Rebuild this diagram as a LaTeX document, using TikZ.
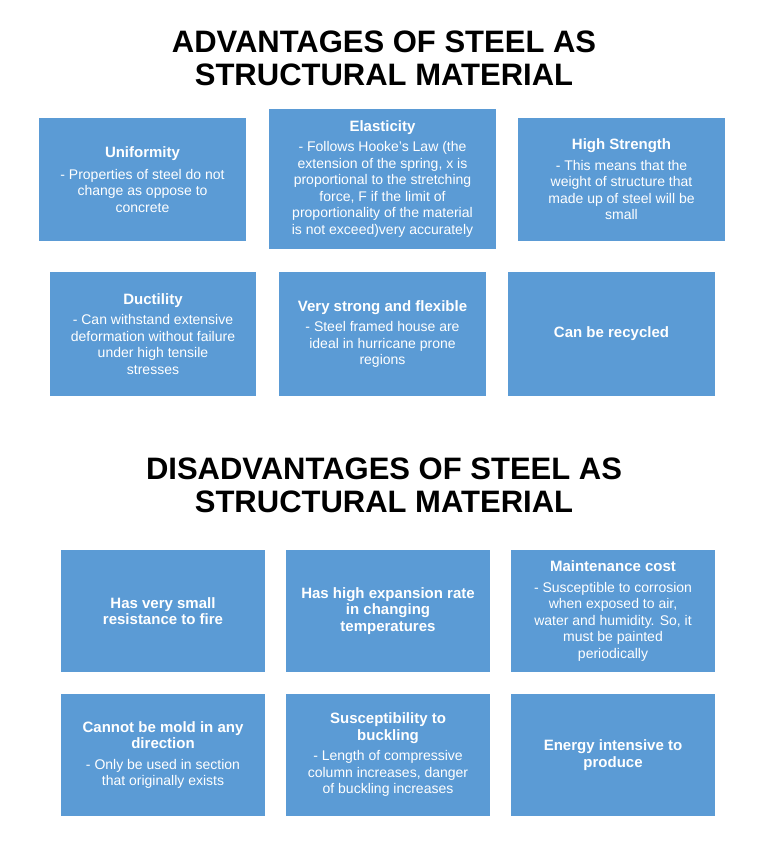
\documentclass[tikz,border=0pt]{standalone}
\usepackage{fontspec}
\setmainfont{Liberation Sans}
\definecolor{boxblue}{HTML}{5B9BD5}
\begin{document}
\begin{tikzpicture}[x=1pt,y=-1pt,
  card/.style={fill=boxblue,draw=none},
  cardtext/.style={text=white,align=center,font=\fontsize{14}{16.5}\selectfont,inner sep=0pt},
  heading/.style={align=center,font=\fontsize{31}{33}\selectfont\bfseries,inner sep=0pt}]
\useasboundingbox (0,0) rectangle (768,866);
\node[heading] (t1) at (384,58) {ADVANTAGES OF STEEL AS\\STRUCTURAL MATERIAL};
\node[heading] (t2) at (384,485) {DISADVANTAGES OF STEEL AS\\STRUCTURAL MATERIAL};
% boxes
\newcommand{\card}[6]{\fill[card] (#2,#3) rectangle (#4,#5);
  \node[cardtext] (#1) at ({(#2+#4)/2},{(#3+#5)/2}) {#6};}
\card{uni}{39}{118}{246}{241}{\textbf{\fontsize{15}{18}\selectfont Uniformity}\\[5pt]- Properties of steel do not\\change as oppose to\\concrete}
\card{ela}{269}{109}{496}{249}{\textbf{\fontsize{15}{18}\selectfont Elasticity}\\[4pt]- Follows Hooke's Law (the\\extension of the spring, x is\\proportional to the stretching\\force, F if the limit of\\proportionality of the material\\is not exceed)very accurately}
\card{hs}{518}{118}{725}{241}{\textbf{\fontsize{15}{18}\selectfont High Strength}\\[4pt]- This means that the\\weight of structure that\\made up of steel will be\\small}
\card{duc}{50}{272}{256}{396}{\textbf{\fontsize{15}{18}\selectfont Ductility}\\[4pt]- Can withstand extensive\\deformation without failure\\under high tensile\\stresses}
\card{vsf}{279}{272}{486}{396}{\textbf{\fontsize{15}{18}\selectfont Very strong and flexible}\\[4pt]- Steel framed house are\\ideal in hurricane prone\\regions}
\card{rec}{508}{272}{715}{396}{\textbf{\fontsize{15}{18}\selectfont Can be recycled}}
\card{fire}{61}{550}{265}{672}{\textbf{\fontsize{15}{18}\selectfont Has very small}\\\textbf{\fontsize{15}{18}\selectfont resistance to fire}}
\card{exp}{286}{550}{490}{672}{\textbf{\fontsize{15}{18}\selectfont Has high expansion rate}\\\textbf{\fontsize{15}{18}\selectfont in changing}\\\textbf{\fontsize{15}{18}\selectfont temperatures}}
\card{mc}{511}{550}{715}{672}{\textbf{\fontsize{15}{18}\selectfont Maintenance cost}\\[4pt]- Susceptible to corrosion\\when exposed to air,\\water and humidity. So, it\\must be painted\\periodically}
\card{mold}{61}{694}{265}{816}{\textbf{\fontsize{15}{18}\selectfont Cannot be mold in any}\\\textbf{\fontsize{15}{18}\selectfont direction}\\[4pt]- Only be used in section\\that originally exists}
\card{buck}{286}{694}{490}{816}{\textbf{\fontsize{15}{18}\selectfont Susceptibility to}\\\textbf{\fontsize{15}{18}\selectfont buckling}\\[4pt]- Length of compressive\\column increases, danger\\of buckling increases}
\card{en}{511}{694}{715}{816}{\textbf{\fontsize{15}{18}\selectfont Energy intensive to}\\\textbf{\fontsize{15}{18}\selectfont produce}}
\end{tikzpicture}
\end{document}
